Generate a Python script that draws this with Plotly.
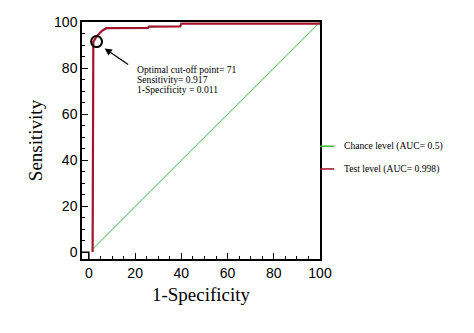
import plotly.graph_objects as go

# ROC curve (percent)
fpr = [1.6, 1.6, 1.9, 1.9, 2.6, 3.5, 4.5, 5.5, 7.5, 25.5, 26, 39.5, 40, 100]
tpr = [0, 64, 64.5, 91.5, 92.5, 94, 95, 96, 97.3, 97.4, 98.0, 98.1, 99.3, 99.3]

chance_x = [1.9, 100]
chance_y = [1.6, 100]

opt_x = [3.3]
opt_y = [91.5]

x_ticks = [0, 20, 40, 60, 80, 100]
y_ticks = [0, 20, 40, 60, 80, 100]

legend_labels = ["Chance level (AUC= 0.5)", "Test level (AUC= 0.998)"]
note_lines = ["Optimal cut-off point= 71", "Sensitivity= 0.917", "1-Specificity = 0.011"]

RED = "#a0142c"
GREEN_LINE = "#7cc87c"
GREEN_LEG = "#3cb43c"
SERIF = "Liberation Serif, Times New Roman, serif"
SANS = "Liberation Sans, Arial, sans-serif"

fig = go.Figure()
fig.add_trace(go.Scatter(x=chance_x, y=chance_y, mode="lines", name=legend_labels[0],
                         line=dict(color=GREEN_LINE, width=1.1), showlegend=False))
fig.add_trace(go.Scatter(x=fpr, y=tpr, mode="lines", name=legend_labels[1],
                         line=dict(color=RED, width=2.2), showlegend=False))
fig.add_trace(go.Scatter(x=opt_x, y=opt_y, mode="markers", showlegend=False,
                         marker=dict(symbol="circle-open", size=11, color="black",
                                     line=dict(width=2, color="black"))))

axis_common = dict(
    showline=True, linecolor="black", linewidth=1.5, mirror=True,
    showgrid=False, zeroline=False,
    ticks="inside", ticklen=6, tickwidth=1.3, tickcolor="black",
    tickfont=dict(family=SANS, size=14, color="black"),
    minor=dict(ticks="inside", ticklen=3, tickwidth=1.2, tickcolor="black", dtick=5),
)

fig.update_xaxes(range=[-3, 100], tickvals=x_ticks, ticktext=[str(v) for v in x_ticks],
                 title=dict(text="1-Specificity", font=dict(family=SERIF, size=19, color="black"),
                            standoff=8),
                 **axis_common)
fig.update_yaxes(range=[-3, 100], tickvals=y_ticks, ticktext=[str(v) for v in y_ticks],
                 title=dict(text="Sensitivity", font=dict(family=SERIF, size=19, color="black"),
                            standoff=6),
                 **axis_common)

# small box at the origin
fig.add_shape(type="path", path="M -3 0 L 0 0 L 0 -3", xref="x", yref="y",
              line=dict(color="black", width=1.3))

# arrow to optimal point
fig.add_annotation(x=6.8, y=88.5, xref="x", yref="y", text="", showarrow=True,
                   ax=25, ay=17, axref="pixel", ayref="pixel",
                   arrowhead=2, arrowsize=1.1, arrowwidth=1.3, arrowcolor="black")

# note text
for i, line in enumerate(note_lines):
    fig.add_annotation(x=19.8, y=79.5 - i * 4.5, xref="x", yref="y", text=line,
                       showarrow=False, xanchor="left", yanchor="middle",
                       font=dict(family=SERIF, size=9.6, color="black"))

# manual legend
leg_y = [0.476, 0.38]
leg_col = [GREEN_LEG, RED]
for i, lab in enumerate(legend_labels):
    fig.add_shape(type="line", xref="paper", yref="paper", x0=1.0, x1=1.06,
                  y0=leg_y[i], y1=leg_y[i], line=dict(color=leg_col[i], width=1.5))
    fig.add_annotation(x=1.092, y=leg_y[i], xref="paper", yref="paper", text=lab,
                       showarrow=False, xanchor="left", yanchor="middle",
                       font=dict(family=SERIF, size=9.6, color="black"))

fig.update_layout(
    width=474, height=333,
    margin=dict(l=82, r=154, t=22, b=74),
    paper_bgcolor="white", plot_bgcolor="white",
)

fig.write_html("out.html")
